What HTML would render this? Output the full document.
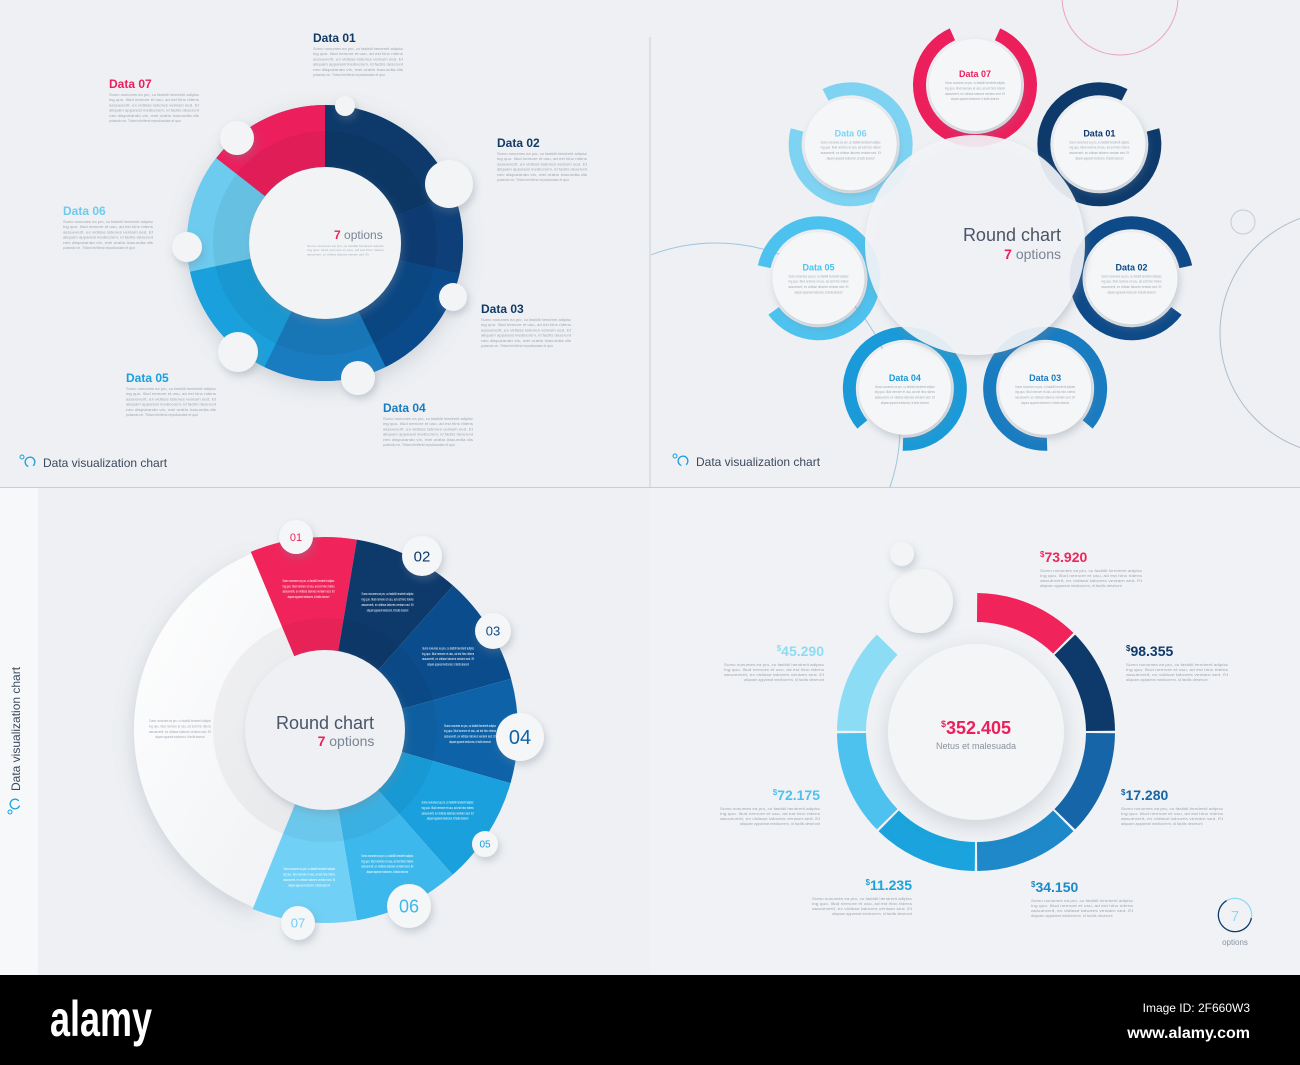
<!DOCTYPE html>
<html><head><meta charset="utf-8"><style>
html,body{margin:0;padding:0;width:1300px;height:1065px;overflow:hidden;background:#eef0f3}
svg{display:block}
text{font-family:"Liberation Sans",sans-serif}
</style></head><body>
<svg id="s" width="1300" height="1065" viewBox="0 0 1300 1065">
<defs>
<filter id="sh" x="-50%" y="-50%" width="200%" height="200%"><feDropShadow dx="2" dy="4" stdDeviation="4" flood-color="#7a8799" flood-opacity="0.35"/></filter>
<filter id="sh2" x="-30%" y="-30%" width="160%" height="160%"><feDropShadow dx="0" dy="6" stdDeviation="10" flood-color="#7a8799" flood-opacity="0.3"/></filter>
<linearGradient id="wg" x1="0" y1="0" x2="1" y2="1"><stop offset="0" stop-color="#ffffff"/><stop offset="1" stop-color="#eef0f3"/></linearGradient>
<clipPath id="cp2"><rect x="651" y="0" width="649" height="487"/></clipPath>
</defs>
<rect x="0" y="0" width="1300" height="975" fill="#eef0f3"/>
<rect x="650" y="487" width="650" height="488" fill="#f0f2f5"/>
<rect x="0" y="487" width="38" height="488" fill="#f7f8fa"/>
<line x1="650" y1="37" x2="650" y2="487" stroke="#c9ced6" stroke-width="1"/>
<line x1="0" y1="487.5" x2="1300" y2="487.5" stroke="#c9ced6" stroke-width="1"/>
<g id="p1"></g>
<g id="p2"></g>
<g id="p3"></g>
<g id="p4"></g>
<rect x="0" y="975" width="1300" height="90" fill="#000"/>
<text x="0" y="1036" font-size="50" font-weight="bold" fill="#fff" transform="translate(50,0) scale(0.72,1)">alamy</text>
<text x="1250" y="1012" font-size="12" fill="#fff" text-anchor="end">Image ID: 2F660W3</text>
<text x="1250" y="1038" font-size="16" font-weight="bold" fill="#fff" text-anchor="end">www.alamy.com</text>
</svg>
<script>
// ---- Panel 1 data ----
const p1Labels = ["Data 01","Data 02","Data 03","Data 04","Data 05","Data 06","Data 07"];
const p1Bounds = [0,69,103,154,206,258,308,360];
const p1Colors = ["#0d3a6b","#0e3f78","#0b4a8a","#1a7cc0","#1aa0dc","#6ccbef","#ec1f5c"];
// ---- Panel 3 data ----
const p3Labels = ["01","02","03","04","05","06","07"];
const p3Bounds = [-22.6,9.5,41.6,74.6,106,138.6,170.5,202];
const p3Colors = ["#f0245a","#0d3a6b","#0b4d8c","#0e63a8","#1aa0dc","#3db8ec","#70d0f5"];
// ---- Panel 4 data ----
const p4Amounts = ["73.920","98.355","17.280","34.150","11.235","72.175","45.290"];
const p4Shares = [1,1,1,1,1,1,1];
const p4Colors = ["#f0245a","#0d3a6b","#1565a8","#1e88c8","#1aa3dc","#4ec2ee","#8cdcf5"];
// ---- Panel 2 data ----
const p2Labels = ["Data 07","Data 01","Data 02","Data 03","Data 04","Data 05","Data 06"];
const p2Angles = [0,51,102,154,206,258,309];
const p2Colors = ["#ec1f5c","#0d3a6b","#0e4a88","#1a7cc0","#1a9ad8","#4ec2ee","#7ed3f3"];

const NS="http://www.w3.org/2000/svg";
function el(parent,tag,attrs){const e=document.createElementNS(NS,tag);for(const k in attrs)e.setAttribute(k,attrs[k]);parent.appendChild(e);return e;}
function pt(cx,cy,r,a){const t=a*Math.PI/180;return [cx+r*Math.sin(t),cy-r*Math.cos(t)];}
function arc(cx,cy,r0,r1,a0,a1){const l=(a1-a0)>180?1:0;const p1=pt(cx,cy,r1,a0),p2=pt(cx,cy,r1,a1),p3=pt(cx,cy,r0,a1),p4=pt(cx,cy,r0,a0);
return `M${p1[0]},${p1[1]}A${r1},${r1} 0 ${l} 1 ${p2[0]},${p2[1]}L${p3[0]},${p3[1]}A${r0},${r0} 0 ${l} 0 ${p4[0]},${p4[1]}Z`;}
const lorem=["Sumo nonumes ea pro, cu fastidii hendrerit adipisc","ing quo. Illud nemore et usu, ad est hinc ridens","assueverit, ex vidisse labores veniam sed. Et","aliquam appareat mediocrem, id facilis deserunt","nec disputando vix, mei oratio iracundia dis","putando ne. Tritani eleifend repudiandae et quo"];
function para(g,x,y,n,w,anchor,fill,fs){for(let i=0;i<n;i++){const t=el(g,'text',{x:x,y:y+i*(fs+1.6),'font-size':fs,fill:fill||'#9aa3ae','text-anchor':anchor||'start',textLength:w*(i==n-1?0.8:1),lengthAdjust:'spacingAndGlyphs'});t.textContent=lorem[i%lorem.length];

}}
function logo(g,x,y,txt,rot){const gg=el(g,'g',{transform:rot?`rotate(-90 ${x} ${y})`:''});


el(gg,'circle',{cx:x-4,cy:y-10,r:2,fill:'none',stroke:'#1aa0dc','stroke-width':1});
el(gg,'path',{d:arc(x+4,y-5,4.2,5.5,200,500),fill:'#1aa0dc'});
const t=el(gg,'text',{x:x+17,y:y,'font-size':12,fill:'#3c4a5c'});t.textContent=txt;}

// ===== Panel 1 =====
(function(){const g=document.getElementById('p1');const cx=325,cy=243,R=138,r=76;
const base=el(g,'circle',{cx:cx,cy:cy,r:R,fill:'#1a7cc0',filter:'url(#sh2)'});


for(let i=0;i<7;i++){const a0=p1Bounds[i],a1=p1Bounds[i+1];
const s=el(g,'path',{d:arc(cx,cy,r,R,a0,a1),fill:p1Colors[i]});


const b=el(g,'path',{d:arc(cx,cy,r,112,a0,a1),fill:'#000',opacity:0.05});

}
const c=el(g,'circle',{cx:cx,cy:cy,r:r,fill:'#f2f3f5',filter:'url(#sh)'});


const t1=el(g,'text',{x:334,y:239,'font-size':12,fill:'#7a8494'});t1.innerHTML='<tspan fill="#ec1f5c" font-weight="bold">7</tspan> options';


para(g,307,247,3,77,'start','#a9b0ba',2.6);
const bub=[[345,106,10],[237,138,17],[449,184,24],[187,247,15],[453,297,14],[238,352,20],[358,378,17]];
bub.forEach(b=>{const e=el(g,'circle',{cx:b[0],cy:b[1],r:b[2],fill:'#f3f4f6',filter:'url(#sh)'});

});
const labs=[[313,42,0,'#123a66'],[497,147,1,'#123a66'],[481,313,2,'#123a66'],[383,412,3,'#1a7cc0'],[126,382,4,'#1aa0dc'],[63,215,5,'#6ccbef'],[109,88,6,'#ec1f5c']];
labs.forEach(l=>{const t=el(g,'text',{x:l[0],y:l[1],'font-size':12,'font-weight':'bold',fill:l[3]});t.textContent=p1Labels[l[2]];


para(g,l[0],l[1]+8,6,90,'start','#a1a9b4',3.6);});
logo(g,26,467,'Data visualization chart',false);
})();

// ===== Panel 2 =====
(function(){const g=document.getElementById('p2');
const dec=el(g,'g',{'clip-path':'url(#cp2)'});


el(dec,'circle',{cx:1120,cy:-3,r:58,fill:'none',stroke:'#e9a6b8','stroke-width':1});
el(dec,'circle',{cx:1243,cy:222,r:12,fill:'none',stroke:'#c5ccd6','stroke-width':1});
el(dec,'circle',{cx:1342,cy:333,r:122,fill:'none',stroke:'#aebdcc','stroke-width':1});
el(dec,'circle',{cx:716,cy:427,r:184,fill:'none',stroke:'#9cc6e0','stroke-width':1});
const cx=975,cy=245,D=160;
for(let i=0;i<7;i++){const a=p2Angles[i];const p=pt(cx,cy,D,a);
const ring=el(g,'path',{d:arc(p[0],p[1],49,62,a+24,a+336),fill:p2Colors[i]});


const w=el(g,'circle',{cx:p[0],cy:p[1],r:46,fill:'#f5f6f8',filter:'url(#sh)'});

}
const c=el(g,'circle',{cx:cx,cy:cy,r:110,fill:'#f3f4f7','fill-opacity':0.9,filter:'url(#sh)'});


for(let i=0;i<7;i++){const a=p2Angles[i];const p=pt(cx,cy,D,a);
const t=el(g,'text',{x:p[0],y:p[1]-8,'font-size':9,'font-weight':'bold',fill:p2Colors[i],'text-anchor':'middle'});t.textContent=p2Labels[i];


para(g,p[0],p[1]-1,4,60,'middle','#a1a9b4',3.8);}
const t1=el(g,'text',{x:1061,y:241,'font-size':18,fill:'#4a5568','text-anchor':'end'});t1.textContent='Round chart';


const t2=el(g,'text',{x:1061,y:259,'font-size':14,fill:'#7a8494','text-anchor':'end'});t2.innerHTML='<tspan fill="#ec1f5c" font-weight="bold">7</tspan> options';


logo(g,679,466,'Data visualization chart',false);
})();

// ===== Panel 3 =====
(function(){const g=document.getElementById('p3');const cx=325,cy=730,R=193,r=80;
const w=el(g,'path',{d:arc(cx,cy,0,R-2,p3Bounds[7],p3Bounds[0]+360),fill:'url(#wg)',filter:'url(#sh2)'});


para(g,180,722,4,62,'middle','#a1a9b4',3.8);
for(let i=0;i<7;i++){const a0=p3Bounds[i],a1=p3Bounds[i+1];
const s=el(g,'path',{d:arc(cx,cy,0,R,a0,a1),fill:p3Colors[i]});


const m=(a0+a1)/2;const p=pt(cx,cy,145,m);
para(g,p[0],p[1]-4,4,52,'middle','#ffffff',3.8);}
const band=el(g,'circle',{cx:cx,cy:cy,r:112,fill:'#000',opacity:0.04});


const c=el(g,'circle',{cx:cx,cy:cy,r:r,fill:'#eef0f3',filter:'url(#sh)'});


const t1=el(g,'text',{x:325,y:729,'font-size':18,fill:'#4a5568','text-anchor':'middle'});t1.textContent='Round chart';


const t2=el(g,'text',{x:346,y:746,'font-size':14,fill:'#7a8494','text-anchor':'middle'});t2.innerHTML='<tspan fill="#ec1f5c" font-weight="bold">7</tspan> options';


const nb=[[296,537,17,0,11],[422,556,20,1,15],[493,631,18,2,13],[520,737,24,3,20],[485,844,13,4,10],[409,906,22,5,18],[298,923,17,6,13]];
nb.forEach(b=>{const e=el(g,'circle',{cx:b[0],cy:b[1],r:b[2],fill:'#f5f6f8',filter:'url(#sh)'});


const t=el(g,'text',{x:b[0],y:b[1]+b[4]*0.36,'font-size':b[4],fill:p3Colors[b[3]],'text-anchor':'middle'});t.textContent=p3Labels[b[3]];

});
logo(g,20,808,'Data visualization chart',true);
})();

// ===== Panel 4 =====
(function(){const g=document.getElementById('p4');const cx=976,cy=732,R=139,r=110;
const tot=p4Shares.reduce((a,b)=>a+b,0);let a=0;
for(let i=0;i<7;i++){const span=315*p4Shares[i]/tot;
const s=el(g,'path',{d:arc(cx,cy,r,R,a+0.5,a+span-0.5),fill:p4Colors[i]});


a+=span;}
const c=el(g,'circle',{cx:cx,cy:cy,r:88,fill:'#f4f5f7',filter:'url(#sh2)'});


const t1=el(g,'text',{x:976,y:734,'font-size':18,'font-weight':'bold',fill:'#ec1f5c','text-anchor':'middle'});t1.innerHTML='<tspan font-size="9" dy="-7">$</tspan><tspan dy="7">352.405</tspan>';


const t2=el(g,'text',{x:976,y:749,'font-size':9,fill:'#8a93a0','text-anchor':'middle'});t2.textContent='Netus et malesuada';


[[921,601,32],[902,554,12]].forEach(b=>{const e=el(g,'circle',{cx:b[0],cy:b[1],r:b[2],fill:'#f3f4f6',filter:'url(#sh)'});

});
const pos=[[1040,562,'start'],[1126,656,'start'],[1121,800,'start'],[1031,892,'start'],[912,890,'end'],[820,800,'end'],[824,656,'end']];
for(let i=0;i<7;i++){const p=pos[i];
const t=el(g,'text',{x:p[0],y:p[1],'font-size':14,'font-weight':'bold',fill:p4Colors[i],'text-anchor':p[2]});
t.innerHTML='<tspan font-size="8" dy="-5">$</tspan><tspan dy="5">'+p4Amounts[i]+'</tspan>';


para(g,p[0],p[1]+10,4,p[2]=='end'?100:102,p[2],'#a1a9b4',3.4);}
el(g,'path',{d:arc(1235,915,16,17.3,100,330),fill:'#0d3a6b'});
el(g,'path',{d:arc(1235,915,16,17.3,330,460),fill:'#8cdcf5'});
const t7=el(g,'text',{x:1235,y:921,'font-size':15,fill:'#8cdcf5','text-anchor':'middle'});t7.textContent='7';


const to=el(g,'text',{x:1235,y:945,'font-size':8,fill:'#8a93a0','text-anchor':'middle'});to.textContent='options';


})();
</script>
</body></html>
